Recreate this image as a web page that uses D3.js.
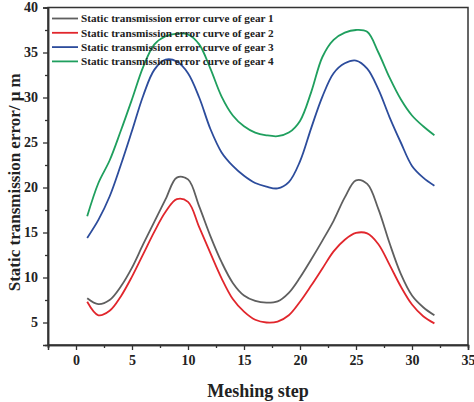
<!DOCTYPE html>
<html>
<head>
<meta charset="utf-8">
<script src="https://cdn.jsdelivr.net/npm/d3@7"></script>
<style>
  html, body { margin: 0; padding: 0; background: #fff; }
  svg { display: block; font-family: 'Liberation Serif', 'Times New Roman', serif; font-weight: bold; }
</style>
</head>
<body>
<svg id="chart" width="474" height="402"></svg>
<script>
const steps = d3.range(1, 33)

const gear1 = [7.7, 7.05, 7.5, 9.0, 11.1, 13.7, 16.2, 18.7, 21.1, 20.9, 17.9, 14.6, 11.7, 9.4, 8.0, 7.4,
  7.2, 7.35, 8.3, 10.0, 12.0, 14.1, 16.3, 18.9, 20.8, 20.4, 17.6, 13.8, 10.4, 8.0, 6.7, 5.8]
const gear2 = [7.3, 5.8, 6.3, 7.9, 10.1, 12.6, 15.1, 17.3, 18.7, 18.4, 15.6, 12.7, 9.9, 7.6, 6.2, 5.3,
  5.0, 5.1, 5.8, 7.3, 9.1, 11.0, 12.9, 14.2, 14.95, 14.9, 13.7, 11.4, 9.0, 7.0, 5.7, 4.9]
const gear3 = [14.4, 16.4, 19.0, 22.5, 26.3, 30.2, 33.1, 34.2, 34.0, 32.7, 30.0, 26.5, 23.9, 22.4, 21.3, 20.5,
  20.1, 19.9, 20.6, 22.9, 26.6, 30.1, 32.7, 33.8, 34.1, 33.2, 30.9, 27.8, 25.0, 22.4, 21.1, 20.2]
const gear4 = [16.8, 20.5, 23.0, 26.3, 29.8, 33.4, 35.9, 36.8, 37.1, 37.0, 35.9, 33.2, 30.1, 28.0, 26.8, 26.1,
  25.8, 25.7, 26.1, 27.4, 30.6, 34.5, 36.4, 37.2, 37.5, 37.3, 35.0, 32.2, 29.8, 28.0, 26.8, 25.8]

const seriesNames = [
  'Static transmission error curve of gear 1',
  'Static transmission error curve of gear 2',
  'Static transmission error curve of gear 3',
  'Static transmission error curve of gear 4'
]
const seriesColors = ['#5f5f5f', '#e1262c', '#2c4c9c', '#1f9f5e']
const seriesValues = [gear1, gear2, gear3, gear4]

const xMajorTicks = d3.range(0, 36, 5)
const yMajorTicks = d3.range(5, 41, 5)

const svg = d3.select('#chart')
const margin = { top: 7.5, right: 6, bottom: 57, left: 48 }
const width = 474
const height = 402

const x = d3.scaleLinear().domain([-2.5, 35]).range([margin.left, width - margin.right])
const y = d3.scaleLinear().domain([2.5, 40]).range([height - margin.bottom, margin.top])

const axisColor = '#333'

// frame
svg.append('rect')
  .attr('x', x(-2.5))
  .attr('y', y(40))
  .attr('width', x(35) - x(-2.5))
  .attr('height', y(2.5) - y(40))
  .attr('fill', 'none')
  .attr('stroke', axisColor)
  .attr('stroke-width', 1.5)

// x axis
const xAxis = svg.append('g')
  .attr('transform', `translate(0,${y(2.5)})`)
  .call(d3.axisBottom(x).tickValues(xMajorTicks).tickSize(5).tickPadding(5).tickFormat(d3.format('d')))
xAxis.append('g')
  .call(d3.axisBottom(x).tickValues(d3.range(-2.5, 35, 5)).tickSize(3).tickFormat(''))

// y axis
const yAxis = svg.append('g')
  .attr('transform', `translate(${x(-2.5)},0)`)
  .call(d3.axisLeft(y).tickValues(yMajorTicks).tickSize(5).tickPadding(5).tickFormat(d3.format('d')))
yAxis.append('g')
  .call(d3.axisLeft(y).tickValues(d3.range(7.5, 40, 5)).tickSize(3).tickFormat(''))

svg.selectAll('.domain').attr('stroke', axisColor).attr('stroke-width', 1.5)
svg.selectAll('.tick line').attr('stroke', axisColor).attr('stroke-width', 1.3)
svg.selectAll('.tick text')
  .attr('fill', '#222')
  .style('font-family', "'Liberation Serif', serif")
  .style('font-weight', 'bold')
  .style('font-size', '14px')

// axis titles
svg.append('text')
  .attr('x', (x(-2.5) + x(35)) / 2)
  .attr('y', 397)
  .attr('text-anchor', 'middle')
  .attr('fill', '#222')
  .style('font-size', '18px')
  .text('Meshing step')

svg.append('text')
  .attr('transform', `translate(20,${(y(2.5) + y(40)) / 2 + 6}) rotate(-90)`)
  .attr('text-anchor', 'middle')
  .attr('fill', '#222')
  .style('font-size', '17px')
  .text('Static transmission error/ μ m')

// curves
const line = d3.line()
  .x((d, i) => x(steps[i]))
  .y(d => y(d))
  .curve(d3.curveCatmullRom.alpha(0.5))

svg.append('g')
  .selectAll('path')
  .data(seriesValues)
  .join('path')
  .attr('d', d => line(d))
  .attr('fill', 'none')
  .attr('stroke', (d, i) => seriesColors[i])
  .attr('stroke-width', 1.8)

// legend
const legend = svg.append('g')
  .selectAll('g')
  .data(seriesNames)
  .join('g')
  .attr('transform', (d, i) => `translate(52,${18.5 + i * 14.3})`)

legend.append('line')
  .attr('x1', 0)
  .attr('x2', 26)
  .attr('stroke', (d, i) => seriesColors[i])
  .attr('stroke-width', 1.8)

legend.append('text')
  .attr('x', 29)
  .attr('dy', '0.35em')
  .attr('fill', '#222')
  .style('font-size', '11.2px')
  .text(d => d)
</script>
</body>
</html>
